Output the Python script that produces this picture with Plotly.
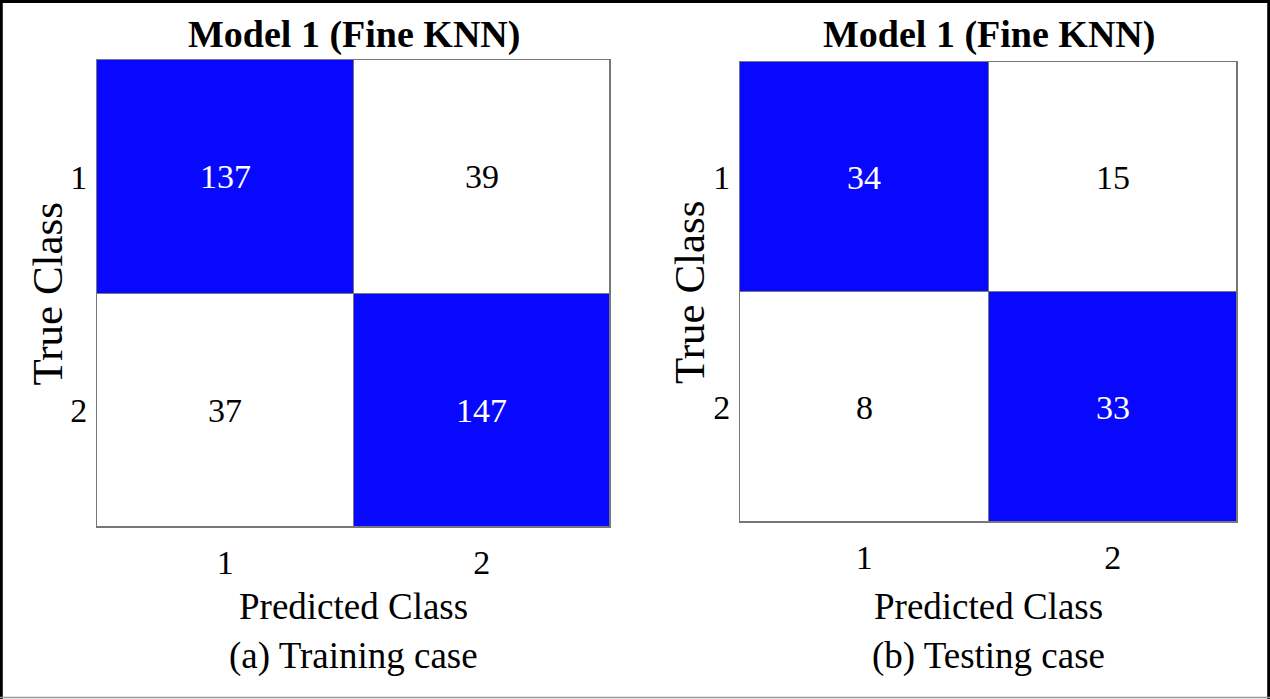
import plotly.graph_objects as go

classes = ["1", "2"]
class_pos = [1, 2]
train_counts = [[137, 39], [37, 147]]
test_counts = [[34, 15], [8, 33]]
titles = ["Model 1 (Fine KNN)", "Model 1 (Fine KNN)"]
captions = ["(a) Training case", "(b) Testing case"]
xlabel = "Predicted Class"
ylabel = "True Class"

W, H = 1270, 699
FONT = "Liberation Serif, Times New Roman, serif"
BLUE = "#0808ff"

# panel pixel boxes (left, right, top, bottom)
boxes = [(97, 610, 60, 527), (740, 1237, 62, 522)]

fig = go.Figure()
for k, (counts, box) in enumerate(zip([train_counts, test_counts], boxes)):
    xa = "x" if k == 0 else "x2"
    ya = "y" if k == 0 else "y2"
    mask = [[1 if i == j else 0 for j in range(len(classes))] for i in range(len(classes))]
    fig.add_trace(go.Heatmap(
        z=mask, x=class_pos, y=class_pos, xaxis=xa, yaxis=ya,
        colorscale=[[0, "white"], [1, BLUE]], zmin=0, zmax=1,
        showscale=False, xgap=1, ygap=1, hoverinfo="skip"))
    for i, r in enumerate(class_pos):
        for j, c in enumerate(class_pos):
            fig.add_annotation(x=c, y=r, xref=xa, yref=ya, text=str(counts[i][j]),
                               showarrow=False, xanchor="center", yanchor="middle",
                               font=dict(family=FONT, size=34,
                                         color="white" if i == j else "black"))
    l, r_, t, b = box
    xd = [l / W, r_ / W]
    yd = [1 - b / H, 1 - t / H]
    axx = dict(domain=xd, range=[0.5, 2.5], tickvals=class_pos, ticktext=classes,
               showline=True, mirror=True, linecolor="#777",
               linewidth=1, ticks="", tickfont=dict(family=FONT, size=34, color="black"),
               ticklabelstandoff=5, showgrid=False, zeroline=False)
    axy = dict(domain=yd, range=[2.5, 0.5], tickvals=class_pos, ticktext=classes,
               showline=True, mirror=True, linecolor="#777",
               linewidth=1, ticks="", tickfont=dict(family=FONT, size=34, color="black"),
               ticklabelstandoff=2, showgrid=False, zeroline=False)
    if k == 0:
        fig.update_layout(xaxis=axx, yaxis=axy)
    else:
        axx["anchor"] = "y2"
        axy["anchor"] = "x2"
        fig.update_layout(xaxis2=axx, yaxis2=axy)
    cx = (l + r_) / 2 / W
    fig.add_annotation(x=cx, y=1 - 35 / H, xref="paper", yref="paper",
                       text="<b>" + titles[k] + "</b>", showarrow=False,
                       font=dict(family=FONT, size=38, color="black"),
                       xanchor="center", yanchor="middle")
    fig.add_annotation(x=cx, y=1 - 606 / H, xref="paper", yref="paper",
                       text=xlabel, showarrow=False,
                       font=dict(family=FONT, size=37, color="black"),
                       xanchor="center", yanchor="middle")
    fig.add_annotation(x=cx, y=1 - 656 / H, xref="paper", yref="paper",
                       text=captions[k], showarrow=False,
                       font=dict(family=FONT, size=37, color="black"),
                       xanchor="center", yanchor="middle")
    fig.add_annotation(x=(l - 50) / W, y=1 - ((t + b) / 2) / H, xref="paper", yref="paper",
                       text=ylabel, showarrow=False, textangle=-90,
                       font=dict(family=FONT, size=43, color="black"),
                       xanchor="center", yanchor="middle")

# outer frame: thick black top/left/right, thin grey bottom
fig.add_shape(type="line", xref="paper", yref="paper", x0=0.001, y0=0.998, x1=0.999, y1=0.998,
              line=dict(color="black", width=3))
fig.add_shape(type="line", xref="paper", yref="paper", x0=0.001, y0=0.0, x1=0.001, y1=1.0,
              line=dict(color="black", width=3))
fig.add_shape(type="line", xref="paper", yref="paper", x0=0.999, y0=0.0, x1=0.999, y1=1.0,
              line=dict(color="black", width=3))
fig.add_shape(type="line", xref="paper", yref="paper", x0=0.0, y0=0.002, x1=1.0, y1=0.002,
              line=dict(color="#999", width=1.5))

fig.update_layout(width=W, height=H, margin=dict(l=0, r=0, t=0, b=0),
                  paper_bgcolor="white", plot_bgcolor="#777", showlegend=False)

fig.write_html("out.html", config={"displayModeBar": False},
               post_script="document.body.style.margin='0';document.body.style.overflow='hidden';")
